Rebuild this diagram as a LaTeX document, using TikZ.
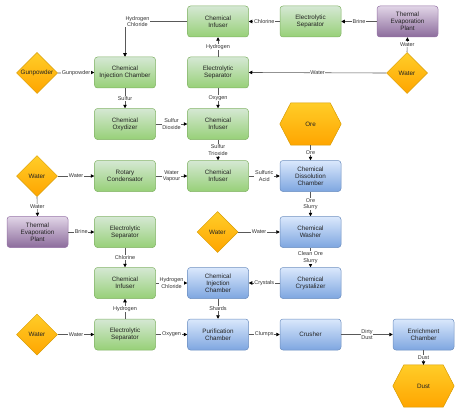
\documentclass[tikz,border=0pt]{standalone}
\usepackage{fontspec}
\setmainfont{Liberation Sans}
\usetikzlibrary{shapes.geometric,arrows.meta}
\definecolor{gfill}{HTML}{D5E8D4}\definecolor{ggrad}{HTML}{97D077}\definecolor{gline}{HTML}{82B366}
\definecolor{bfill}{HTML}{DAE8FC}\definecolor{bgrad}{HTML}{7EA6E0}\definecolor{bline}{HTML}{6C8EBF}
\definecolor{pfill}{HTML}{E1D5E7}\definecolor{pgrad}{HTML}{8C6C9C}\definecolor{pline}{HTML}{9673A6}
\definecolor{ofill}{HTML}{FFCD28}\definecolor{ograd}{HTML}{FFA500}\definecolor{oline}{HTML}{D79B00}
\definecolor{txt}{HTML}{222222}
\tikzset{
  box/.style={rectangle, rounded corners=3pt, minimum width=61pt, minimum height=31pt, inner sep=1pt,
    align=center, text=txt, font=\fontsize{6.3}{7.2}\selectfont, line width=0.5pt},
  gbox/.style={box, draw=gline, top color=gfill, bottom color=ggrad},
  bbox/.style={box, draw=bline, top color=bfill, bottom color=bgrad},
  pbox/.style={box, draw=pline, top color=pfill, bottom color=pgrad},
  dia/.style={diamond, aspect=1, minimum width=41pt, minimum height=41pt, inner sep=0pt, draw=oline,
    top color=ofill, bottom color=ograd, text=txt, font=\fontsize{6.3}{7.2}\selectfont, line width=0.5pt},
  hexnode/.style={rectangle, minimum width=61pt, minimum height=42pt, inner sep=0pt, text=txt,
    font=\fontsize{6.3}{7.2}\selectfont},
  hexfill/.style={draw=oline, top color=ofill, bottom color=ograd, line width=0.5pt},
  flow/.style={draw=black!65, line width=0.6pt, -{Triangle[length=3.5pt,width=3.5pt,color=black]}},
  lbl/.style={fill=white, inner sep=0.6pt, align=center, text=black!80, font=\fontsize{5.5}{6.2}\selectfont},
}
\newcommand{\hexagon}[1]{%
  \path[hexfill] (#1.west) -- ([xshift=11pt]#1.north west) -- ([xshift=-11pt]#1.north east) -- (#1.east)
    -- ([xshift=-11pt]#1.south east) -- ([xshift=11pt]#1.south west) -- cycle;}
\begin{document}
\begin{tikzpicture}[x=1pt,y=-1pt]
\useasboundingbox (0,0) rectangle (474,420);
% row 1
\node[gbox] (ci1) at (218,21.5) {Chemical\\Infuser};
\node[gbox] (es1) at (310.5,21.5) {Electrolytic\\Separator};
\node[pbox] (tep1) at (407.5,21.5) {Thermal\\Evaporation\\Plant};
% row 2
\node[dia] (gun) at (37,73) {Gunpowder};
\node[gbox] (icc1) at (125,72.5) {Chemical\\Injection Chamber};
\node[gbox] (es2) at (218,72.5) {Electrolytic\\Separator};
\node[dia] (w1) at (407,73) {Water};
% row 3
\node[gbox] (ox) at (125,124) {Chemical\\Oxydizer};
\node[gbox] (ci2) at (218,124) {Chemical\\Infuser};
\path (310.5,124) node[hexnode] (ore) {};
\hexagon{ore}
\node[hexnode] at (ore) {Ore};
% row 4
\node[dia] (w2) at (37,176) {Water};
\node[gbox] (rc) at (125,176) {Rotary\\Condensator};
\node[gbox] (ci3) at (218,176) {Chemical\\Infuser};
\node[bbox] (cdc) at (310.5,176) {Chemical\\Dissolution\\Chamber};
% row 5
\node[pbox] (tep2) at (37.5,232) {Thermal\\Evaporation\\Plant};
\node[gbox] (es3) at (125,232) {Electrolytic\\Separator};
\node[dia] (w3) at (217.5,232) {Water};
\node[bbox] (cw) at (310.5,232) {Chemical\\Washer};
% row 6
\node[gbox] (ci4) at (125,283) {Chemical\\Infuser};
\node[bbox] (icc2) at (218,283) {Chemical\\Injection\\Chamber};
\node[bbox] (cc) at (310.5,283) {Chemical\\Crystalizer};
% row 7
\node[dia] (w4) at (37,334.5) {Water};
\node[gbox] (es4) at (125,334.5) {Electrolytic\\Separator};
\node[bbox] (pc) at (218,334.5) {Purification\\Chamber};
\node[bbox] (cr) at (310.5,334.5) {Crusher};
\node[bbox] (ec) at (423.5,334.5) {Enrichment\\Chamber};
% dust
\path (423.5,386) node[hexnode] (dust) {};
\hexagon{dust}
\node[hexnode] at (dust) {Dust};
% connectors
\draw[flow] (ci1.west) -| node[lbl, pos=0.4] {Hydrogen\\Chloride} (icc1.north);
\draw[flow] (es1) -- node[lbl] {Chlorine} (ci1);
\draw[flow] (tep1) -- node[lbl] {Brine} (es1);
\draw[flow] (w1.north) -- node[lbl] {Water} (tep1.south);
\draw[flow] (w1.west) -- node[lbl] {Water} (es2.east);
\draw[flow] (es2) -- node[lbl] {Hydrogen} (ci1);
\draw[flow] (gun.east) -- node[lbl] {Gunpowder} (icc1.west);
\draw[flow] (icc1) -- node[lbl] {Sulfur} (ox);
\draw[flow] (es2) -- node[lbl] {Oxygen} (ci2);
\draw[flow] (ox) -- node[lbl] {Sulfur\\Dioxide} (ci2);
\draw[flow] (ci2) -- node[lbl] {Sulfur\\Trioxide} (ci3);
\draw[flow] (w2.east) -- node[lbl] {Water} (rc.west);
\draw[flow] (rc) -- node[lbl] {Water\\Vapour} (ci3);
\draw[flow] (ci3) -- node[lbl] {Sulfuric\\Acid} (cdc);
\draw[flow] (ore.south) -- node[lbl] {Ore} (cdc.north);
\draw[flow] (w2.south) -- node[lbl] {Water} (tep2.north);
\draw[flow] (tep2) -- node[lbl] {Brine} (es3);
\draw[flow] (cdc) -- node[lbl] {Ore\\Slurry} (cw);
\draw[flow] (w3.east) -- node[lbl] {Water} (cw.west);
\draw[flow] (es3) -- node[lbl] {Chlorine} (ci4);
\draw[flow] (cw) -- node[lbl] {Clean Ore\\Slurry} (cc);
\draw[flow] (cc) -- node[lbl] {Crystals} (icc2);
\draw[flow] (ci4) -- node[lbl] {Hydrogen\\Chloride} (icc2);
\draw[flow] (es4) -- node[lbl] {Hydrogen} (ci4);
\draw[flow] (w4.east) -- node[lbl] {Water} (es4.west);
\draw[flow] (es4) -- node[lbl] {Oxygen} (pc);
\draw[flow] (icc2) -- node[lbl] {Shards} (pc);
\draw[flow] (pc) -- node[lbl] {Clumps} (cr);
\draw[flow] (cr) -- node[lbl] {Dirty\\Dust} (ec);
\draw[flow] (ec.south) -- node[lbl] {Dust} (dust.north);
\end{tikzpicture}
\end{document}
